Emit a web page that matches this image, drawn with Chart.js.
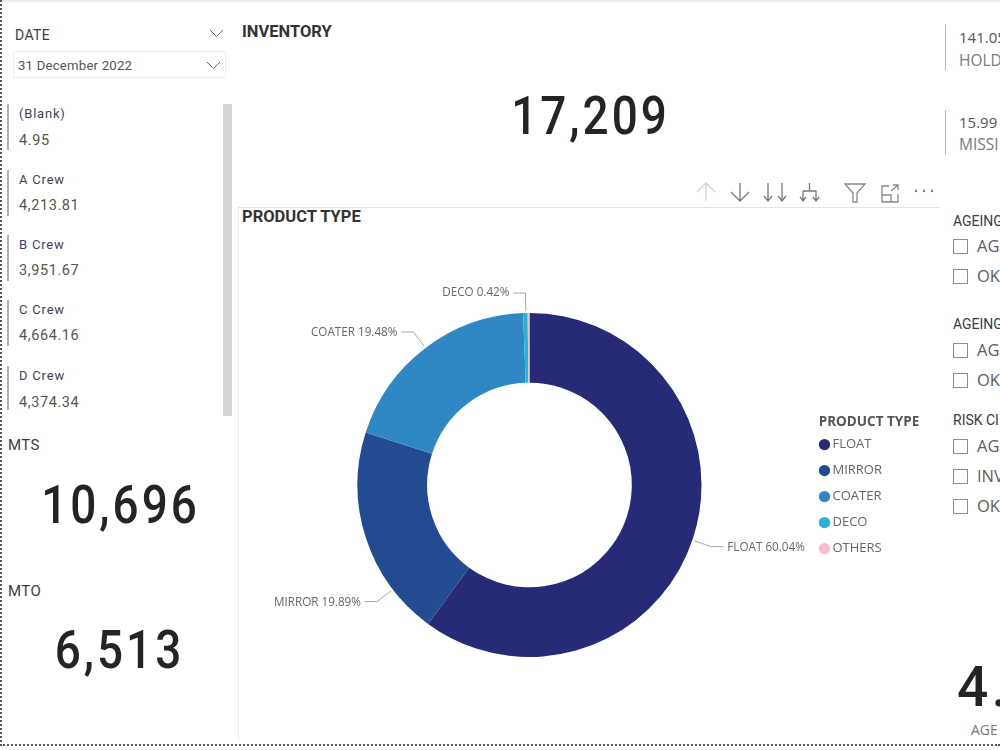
<!DOCTYPE html>
<html><head><meta charset="utf-8">
<script src="https://cdn.jsdelivr.net/npm/chart.js@4"></script>
<style>
html,body{margin:0;padding:0;background:#fff;overflow:hidden}
#page{position:relative;width:1000px;height:750px;overflow:hidden;background:#fff;font-family:Roboto,sans-serif}
.t{position:absolute;white-space:nowrap;line-height:1}
.h{font-size:15px;color:#3c3c3c;font-weight:400;letter-spacing:.4px}
.ht{font-size:16.5px;color:#333;font-weight:700}
.big{font-size:54px;color:#252423;letter-spacing:3.5px;font-weight:500;transform:scaleX(.85);transform-origin:center}
.crew{font-size:13px;color:#3f3f5c;letter-spacing:.8px}
.val{font-size:14.5px;color:#5a5547;letter-spacing:.6px}
.bar{position:absolute;background:#b0b0b0;width:2px}
.box{position:absolute;width:15px;height:15px;border:1.5px solid #8c8c8c;box-sizing:border-box}
.r{font-family:"Open Sans",sans-serif;font-size:16.5px;color:#5c5c5c}
canvas{position:absolute}
svg{position:absolute;overflow:visible}
</style></head><body>
<div id="page">
<canvas id="c" width="691" height="490" style="left:249px;top:240px;width:691px;height:490px"></canvas>
</div>
<script>
const categories=["FLOAT","MIRROR","COATER","DECO","OTHERS"];
const shares=[60.04,19.89,19.48,0.42,0.17];
const sliceColors=["#262a77","#234b92","#2f88c4","#2bb0d6","#f7bccb"];
const labelledPercent=["60.04%","19.89%","19.48%","0.42%",""];
const crews=["(Blank)","A Crew","B Crew","C Crew","D Crew"];
const crewValues=["4.95","4,213.81","3,951.67","4,664.16","4,374.34"];
const inventoryTotal="17,209";
const mtsTotal="10,696";
const mtoTotal="6,513";

const page=document.getElementById('page');
function txt(s,cls,x,y,extra){const d=document.createElement('div');d.className='t '+cls;d.textContent=s;d.style.left=x+'px';d.style.top=y+'px';if(extra)d.style.cssText+=';'+extra;page.appendChild(d);return d;}
function rect(x,y,w,h,c){const d=document.createElement('div');d.style.cssText=`position:absolute;left:${x}px;top:${y}px;width:${w}px;height:${h}px;background:${c}`;page.appendChild(d);}

// frame
const topEdge=document.createElement('div');topEdge.style.cssText='position:absolute;left:0;top:0;width:1000px;height:3px;background:linear-gradient(#e4e4e4,#fff)';page.appendChild(topEdge);
const dl=document.createElement('div');dl.style.cssText='position:absolute;left:0;top:0;width:0;height:746px;border-left:2px dotted #555';page.appendChild(dl);
const db=document.createElement('div');db.style.cssText='position:absolute;left:0;top:744px;width:1000px;height:0;border-top:2px dotted #555';page.appendChild(db);
rect(238,207,1,535,'#ececec');
rect(238,207,702,1,'#e2e2e2');

// date slicer
txt('DATE','h',15,28,'font-size:14px');
txt('31 December 2022','t',18,59,'font-size:13.2px;color:#555;letter-spacing:.2px');
const sl=document.createElement('div');sl.style.cssText='position:absolute;left:13px;top:51px;width:213px;height:27px;border:1px solid #eee;box-sizing:border-box';page.appendChild(sl);
const chev=(x,y)=>{const s=document.createElementNS('http://www.w3.org/2000/svg','svg');s.setAttribute('width',16);s.setAttribute('height',10);s.style.left=x+'px';s.style.top=y+'px';s.innerHTML='<path d="M1 1 L7.5 7.5 L14 1" fill="none" stroke="#666" stroke-width="1"/>';page.appendChild(s);};
chev(209,29);chev(206,61);

// crew cards
const crewTop=[107,173,238,303,369];
const valueTop=[134,199,264,329,396];
crews.forEach((c,i)=>{
  const y=crewTop[i];
  const b=document.createElement('div');b.className='bar';b.style.cssText=`left:7px;top:${y-3}px;height:${i==4?44:46}px`;page.appendChild(b);
  txt(c,'crew',19,y,'');
  txt(crewValues[i],'val',19,valueTop[i],'');
});
rect(223,104,9,312,'#d6d6d6');

// KPIs
txt('INVENTORY','ht',242,24);
txt(inventoryTotal,'big',0,89,'left:240px;width:701px;text-align:center');
txt('MTS','h',8,438);
txt(mtsTotal,'big',0,478,'left:0;width:241px;text-align:center');
txt('MTO','h',8,584);
txt(mtoTotal,'big',0,623,'left:0;width:239px;text-align:center');
txt('PRODUCT TYPE','ht',242,209);

// right cards
rect(945,25,1,45,'#b8b8b8');rect(945,110,1,45,'#b8b8b8');
txt('141.05','r',959,30,'font-size:15px;color:#555');txt('HOLD','r',959,53,'font-size:15.5px;color:#7a7a7a');
txt('15.99','r',959,115,'font-size:15px;color:#555');txt('MISSI','r',959,137,'font-size:15.5px;color:#7a7a7a');

// right slicers
const groups=[['AGEING',214,[['AG',239],['OK',269]]],['AGEING',317,[['AG',343],['OK',373]]],['RISK CI',413,[['AG',439],['INV',469],['OK',499]]]];
groups.forEach(g=>{
  txt(g[0],'t',953,g[1],'font-size:14px;color:#3c3c3c;font-weight:400');
  g[2].forEach(o=>{const d=document.createElement('div');d.className='box';d.style.left='953px';d.style.top=o[1]+'px';page.appendChild(d);
    txt(o[0],'r',977,o[1]-1,'');});
});
txt('4.','big',957,660,'font-size:55px;transform:none');
txt('AGE','r',971,723,'font-size:14px;color:#777');

// visual header icons
const ic=document.createElementNS('http://www.w3.org/2000/svg','svg');
ic.setAttribute('width',260);ic.setAttribute('height',30);ic.style.left='690px';ic.style.top='178px';
ic.innerHTML=`<g fill="none" stroke="#d4d4d4" stroke-width="1.3"><path d="M16 5V23M7 14L16 5L25 14"/></g>
<g fill="none" stroke="#777" stroke-width="1.3"><path d="M50 5V23M41 14L50 23L59 14"/>
<path d="M78 5V23M74 18L78 23L82 18M92 5V23M88 18L92 23L96 18"/>
<path d="M119.5 5V13M113 13H126V23M113 13V23M110 19L113 23L116 19M123 19L126 23L129 19"/></g>
<g fill="none" stroke="#888" stroke-width="1.3"><path d="M155 6H175L167 15V24H163V15Z"/>
<path d="M199 8H192V24H208V16M192 17H201V24M201 13L208 7M203 7H208V12"/></g>
<g fill="#777"><circle cx="226" cy="13" r="1.2"/><circle cx="234" cy="13" r="1.2"/><circle cx="242" cy="13" r="1.2"/></g>`;
page.appendChild(ic);

// slice labels with leader lines, anchored on the arcs the library computed
const anchorWithinSlice=[0.503,0.23,0.5,0.6,null];
const leaderPlugin={id:'leaders',
 afterLayout(chart){const l=chart.legend;l.top+=7;l.bottom+=7;l.width=118;l.right=l.left+118;},
 afterDatasetsDraw(chart){
  const ctx=chart.ctx,arcs=chart.getDatasetMeta(0).data;
  ctx.save();
  ctx.font='11.7px "Open Sans"';ctx.textBaseline='middle';
  arcs.forEach((a,i)=>{
    if(anchorWithinSlice[i]===null)return;
    const ang=a.startAngle+(a.endAngle-a.startAngle)*anchorWithinSlice[i];
    const r=a.outerRadius,cx=a.x,cy=a.y;
    const sx=cx+Math.cos(ang)*(r+2),sy=cy+Math.sin(ang)*(r+2);
    const ex=cx+Math.cos(ang)*(r+20),ey=cy+Math.sin(ang)*(r+20);
    const dir=Math.cos(ang)>=0?1:-1;
    const hx=ex+dir*12;
    ctx.strokeStyle='#a6a6a6';ctx.lineWidth=1;
    ctx.beginPath();ctx.moveTo(sx,sy);ctx.lineTo(ex,ey);ctx.lineTo(hx,ey);ctx.stroke();
    ctx.fillStyle='#666';ctx.textAlign=dir>0?'left':'right';
    ctx.fillText(categories[i]+' '+labelledPercent[i],hx+dir*4,ey+(i===3?0:1));
  });
  ctx.restore();
}};

Chart.defaults.animation=false;
new Chart(document.getElementById('c'),{
  type:'doughnut',
  data:{labels:categories,datasets:[{data:shares,backgroundColor:sliceColors,borderWidth:0}]},
  options:{
    responsive:false,
    cutout:'59.5%',
    layout:{padding:{top:73,bottom:73,left:0,right:48}},
    plugins:{
      tooltip:{enabled:false},
      legend:{
        position:'right',
        title:{display:true,text:'PRODUCT TYPE',position:'center',color:'#555',font:{family:'"Open Sans"',size:13.5,weight:'700'},padding:{top:0,bottom:-7}},
        labels:{usePointStyle:true,pointStyle:'circle',boxWidth:3,boxHeight:8,padding:13,color:'#666',font:{family:'"Open Sans"',size:13}}
      }
    }
  },
  plugins:[leaderPlugin]
});
</script>
</body></html>
